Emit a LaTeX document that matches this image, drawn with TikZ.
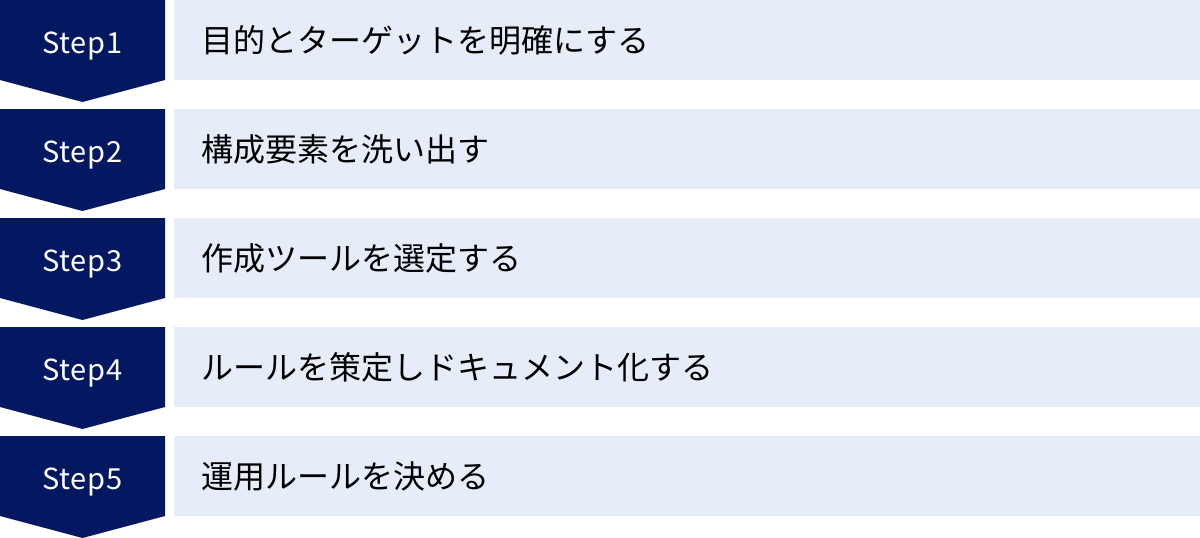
\documentclass[tikz,border=0pt]{standalone}
\usepackage{fontspec}
\setmainfont{Noto Sans CJK JP}
\newfontfamily\stepfont{Noto Sans CJK JP}[LetterSpace=3]
\usetikzlibrary{positioning}
\definecolor{navy}{RGB}{4,24,98}
\definecolor{paleblue}{RGB}{231,236,249}

\begin{document}
\begin{tikzpicture}[x=1pt,y=-1pt,
	stepnum/.style={anchor=base,text=white,inner sep=0pt,font=\stepfont\fontsize{29}{29}\selectfont},
	steptext/.style={anchor=west,inner sep=0pt,font=\fontsize{32}{32}\selectfont}]
	\useasboundingbox (0,0) rectangle (1200,538);
	\foreach \i/\desc in {1/目的とターゲットを明確にする,2/構成要素を洗い出す,3/作成ツールを選定する,4/ルールを策定しドキュメント化する,5/運用ルールを決める} {
		\pgfmathsetmacro\rowtop{109*(\i-1)}
		\fill[navy] (0,\rowtop) -- ++(165,0) -- ++(0,80) -- ++(-82.5,22) -- ++(-82.5,-22) -- cycle;
		\fill[paleblue] (174,\rowtop) rectangle ++(1026,80);
		\node[stepnum] (s\i) at (82.5,\rowtop+53) {Step\i};
		\node[steptext] (t\i) at (201,\rowtop+40) {\desc};
	}
\end{tikzpicture}
\end{document}
